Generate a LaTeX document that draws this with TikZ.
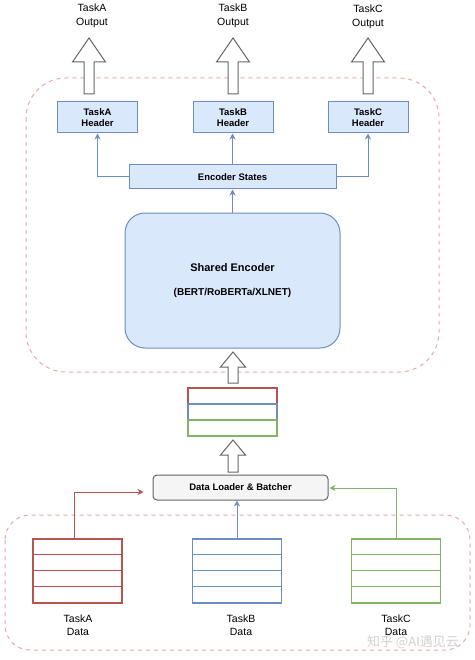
\documentclass[tikz,border=0pt]{standalone}
\usepackage{fontspec}
\setmainfont{Liberation Sans}
\newfontfamily\cjk{Noto Sans CJK SC}
\usetikzlibrary{arrows.meta}
\definecolor{hfill}{HTML}{DAE8FC}
\definecolor{hdraw}{HTML}{6C8EBF}
\definecolor{rdraw}{HTML}{B85450}
\definecolor{gdraw}{HTML}{82B366}
\definecolor{dashc}{HTML}{F2A7A7}
\definecolor{gfill}{HTML}{F5F5F5}
\definecolor{gdk}{HTML}{666666}
\newcommand\blkarr[5]{\draw[blk] (#1-5,#4) -- (#1-5,#3) -- (#1-#5,#3) -- (#1,#2) -- (#1+#5,#3) -- (#1+5,#3) -- (#1+5,#4) -- cycle;}
\begin{document}
\begin{tikzpicture}[x=1pt,y=-1pt,
  hdr/.style={draw=hdraw, fill=hfill, line width=1pt, font=\bfseries\fontsize{9.5}{11}\selectfont, align=center, inner sep=0pt},
  lbl/.style={font=\fontsize{10.5}{13.5}\selectfont, align=center, inner sep=0pt},
  conn/.style={line width=1pt, -{Stealth[length=6pt,width=6pt]}},
  blk/.style={draw=gdk, fill=white, line width=1pt, line join=miter},
  cont/.style={draw=dashc, line width=1pt, dash pattern=on 4pt off 4pt},
  databox/.style={draw=#1, line width=1.3pt, minimum width=89pt, minimum height=64pt, inner sep=0pt},
  rowbox/.style={draw=#1, line width=1.3pt, minimum width=89pt, minimum height=16pt, inner sep=0pt}
]
\useasboundingbox (0,0) rectangle (474,660);
\fill[white] (0,0) rectangle (474,660);

% containers
\draw[cont, rounded corners=40pt] (26,78) rectangle (439,372);
\draw[cont, rounded corners=25pt] (5,515) rectangle (470,650);

% output labels
\node[lbl] (oA) at (92,16) {TaskA\\Output};
\node[lbl] (oB) at (233,16) {TaskB\\Output};
\node[lbl] (oC) at (368,17) {TaskC\\Output};

% output block arrows
\blkarr{89}{38}{62}{94}{16.5}
\blkarr{233}{38}{62}{94}{16.5}
\blkarr{368}{38}{62}{94}{16.5}

% headers
\node[hdr, minimum width=80pt, minimum height=31pt] (hA) at (97.5,117.5) {TaskA\\Header};
\node[hdr, minimum width=80pt, minimum height=31pt] (hB) at (233,117.5) {TaskB\\Header};
\node[hdr, minimum width=80pt, minimum height=31pt] (hC) at (368,117.5) {TaskC\\Header};

% encoder states
\node[hdr, minimum width=207pt, minimum height=24pt] (es) at (232.5,177) {Encoder States};

% shared encoder
\node[hdr, rounded corners=20pt, minimum width=215pt, minimum height=135pt, font=\bfseries] (se) at (232.5,280.5)
  {{\fontsize{11}{13}\selectfont Shared Encoder}\\[12pt]{\fontsize{10}{12}\selectfont (BERT/RoBERTa/XLNET)}};

% connectors
\draw[conn, draw=hdraw] (es.west) -| (hA.south);
\draw[conn, draw=hdraw] (es.east) -| (hC.south);
\draw[conn, draw=hdraw] (es.north) -- (es.north |- hB.south);
\draw[conn, draw=hdraw] (se.north) -- (es.south);

% stacked batch
\node[rowbox=rdraw] (r1) at (232.5,396) {};
\node[rowbox=hdraw] (r2) at (232.5,412) {};
\node[rowbox=gdraw] (r3) at (232.5,428) {};
\draw[hdraw, line width=1.3pt] (r2.north west) -- (r2.north east);
\draw[gdraw, line width=1.3pt] (r3.north west) -- (r3.north east);

% inner block arrows
\blkarr{233}{352}{367}{383}{12.5}
\blkarr{233}{440}{455}{472}{12.5}

% data loader
\node[draw=gdk, fill=gfill, line width=1pt, rounded corners=4pt, minimum width=175pt, minimum height=25pt, inner sep=0pt,
  font=\bfseries\fontsize{9.5}{11}\selectfont] (dl) at (240.5,487.5) {Data Loader \& Batcher};

% data boxes
\node[databox=rdraw] (dA) at (77.5,571) {};
\node[databox=hdraw] (dB) at (237,571) {};
\node[databox=gdraw] (dC) at (396,571) {};
\foreach \n/\c in {dA/rdraw, dB/hdraw, dC/gdraw}{
  \foreach \f in {0.25,0.5,0.75}{
    \draw[\c, line width=1.6pt] ([yshift=-\f*64pt]\n.north west) -- ([yshift=-\f*64pt]\n.north east);
  }
}

% data labels
\node[lbl] (lA) at (78,625) {TaskA\\Data};
\node[lbl] (lB) at (241,625) {TaskB\\Data};
\node[lbl] (lC) at (396,625) {TaskC\\Data};

% data connectors
\draw[conn, draw=rdraw] ([xshift=-3.5pt]dA.north) |- ([xshift=-9pt,yshift=-4.5pt]dl.west);
\draw[conn, draw=hdraw] (dB.north) -- (dB.north |- dl.south);
\draw[conn, draw=gdraw] (dC.north) |- ([xshift=1pt,yshift=-0.5pt]dl.east);

% watermark
\node[font=\cjk\fontsize{13}{15}\selectfont, text=gray!35, inner sep=0pt] (wm) at (413,642) {知乎 @AI遇见云};
\end{tikzpicture}
\end{document}
